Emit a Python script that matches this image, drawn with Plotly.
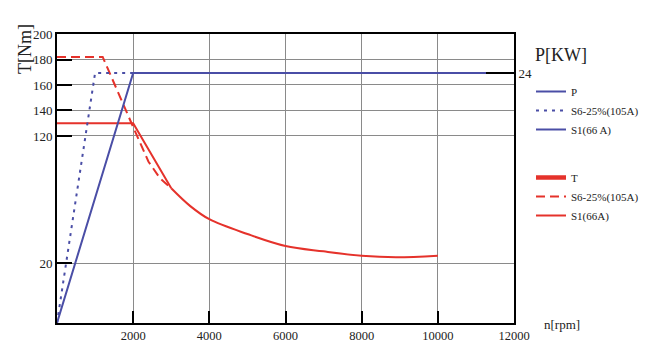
import plotly.graph_objects as go

# ---- data ----
rpm_p_s1 = [0, 2000, 12000]
kw_p_s1 = [0, 24, 24]
rpm_p_s6 = [0, 1000, 2000]
kw_p_s6 = [0, 24, 24]

# torque S1: constant-torque part (straight segments) + field-weakening curve
rpm_t_s1_lin = [0, 2000, 3000]
nm_t_s1_lin = [130, 130, 79]
rpm_t_s1_curve = [3000, 3500, 4000, 5000, 6000, 7000, 8000, 8900, 10000]
nm_t_s1_curve = [79, 65, 54.7, 43.1, 33.7, 29.5, 26.1, 24.9, 26.1]
rpm_t_s6 = [0, 1200, 2000, 2400, 2700, 3000]
nm_t_s6 = [182, 182, 127, 100, 87, 79]

x_ticks = [2000, 4000, 6000, 8000, 10000, 12000]
t_ticks = [20, 120, 140, 160, 180, 200]
p_ticks = [24]

BLUE = "#4a4ea6"
RED = "#e5322b"
SERIF = "Liberation Serif"

fig = go.Figure()

# blue group (power)
fig.add_trace(go.Scatter(x=[None], y=[None], mode="lines", name="P",
                         line=dict(color=BLUE, width=2), legendgroup="p", yaxis="y2"))
fig.add_trace(go.Scatter(x=rpm_p_s6, y=kw_p_s6, mode="lines", name="S6-25%(105A)",
                         line=dict(color=BLUE, width=2, dash="3px,5px"), legendgroup="p", yaxis="y2"))
fig.add_trace(go.Scatter(x=rpm_p_s1, y=kw_p_s1, mode="lines", name="S1(66 A)",
                         line=dict(color=BLUE, width=2), legendgroup="p", yaxis="y2"))

# red group (torque)
fig.add_trace(go.Scatter(x=[None], y=[None], mode="lines", name="T",
                         line=dict(color=RED, width=4.5), legendgroup="t"))
fig.add_trace(go.Scatter(x=rpm_t_s6, y=nm_t_s6, mode="lines", name="S6-25%(105A)",
                         line=dict(color=RED, width=2, dash="9px,5px"), legendgroup="t"))
fig.add_trace(go.Scatter(x=rpm_t_s1_lin, y=nm_t_s1_lin, mode="lines", name="S1(66A)",
                         line=dict(color=RED, width=2), legendgroup="t"))
fig.add_trace(go.Scatter(x=rpm_t_s1_curve, y=nm_t_s1_curve, mode="lines", name="S1(66A)",
                         line=dict(color=RED, width=2, shape="spline", smoothing=1),
                         legendgroup="t", showlegend=False))

GRID = "#8a8a8a"
L, R, T, B = 57, 136, 34, 36
PW, PH = 650 - L - R, 359 - T - B


def px(xp):
    return (xp - L) / PW


def py(yp):
    return (359 - B - yp) / PH


fig.update_layout(
    width=650, height=359,
    margin=dict(l=L, r=R, t=T, b=B, autoexpand=False),
    paper_bgcolor="white", plot_bgcolor="white",
    font=dict(family=SERIF, size=12.5, color="#222"),
    showlegend=True,
    legend=dict(x=px(531), y=py(77), xanchor="left", yanchor="top",
                font=dict(family=SERIF, size=11, color="#222"),
                tracegroupgap=29, traceorder="grouped",
                bgcolor="rgba(0,0,0,0)", itemwidth=30),
    xaxis=dict(range=[0, 12000], tickvals=x_ticks, tickformat="d", ticks="inside", ticklen=12,
               tickwidth=2, tickcolor="black", showgrid=True, gridcolor=GRID, gridwidth=1,
               showline=True, linecolor="black", linewidth=2, mirror=True,
               zeroline=False, tickfont=dict(family=SERIF, size=12.5)),
    yaxis=dict(range=[-26.7, 200], tickvals=t_ticks, ticks="inside", ticklen=15,
               tickwidth=2, tickcolor="black", showgrid=True, gridcolor=GRID, gridwidth=1,
               showline=True, linecolor="black", linewidth=2, mirror=True,
               zeroline=False, tickfont=dict(family=SERIF, size=13)),
    yaxis2=dict(range=[0, 27.74], tickvals=p_ticks, overlaying="y", side="right",
                ticks="inside", ticklen=28, tickwidth=2, tickcolor="black",
                showgrid=False, zeroline=False, showline=True, linecolor="black",
                linewidth=2, tickfont=dict(family=SERIF, size=13)),
    annotations=[
        dict(text="T[Nm]", xref="paper", yref="paper", x=px(25), y=py(49),
             xanchor="center", yanchor="middle", textangle=-90, showarrow=False,
             font=dict(family=SERIF, size=18, color="#222")),
        dict(text="P[KW]", xref="paper", yref="paper", x=px(561), y=py(55),
             xanchor="center", yanchor="middle", showarrow=False,
             font=dict(family=SERIF, size=18, color="#222")),
        dict(text="n[rpm]", xref="paper", yref="paper", x=px(562), y=py(324),
             xanchor="center", yanchor="middle", showarrow=False,
             font=dict(family=SERIF, size=13, color="#222")),
    ],
)

fig.write_html("out.html")
